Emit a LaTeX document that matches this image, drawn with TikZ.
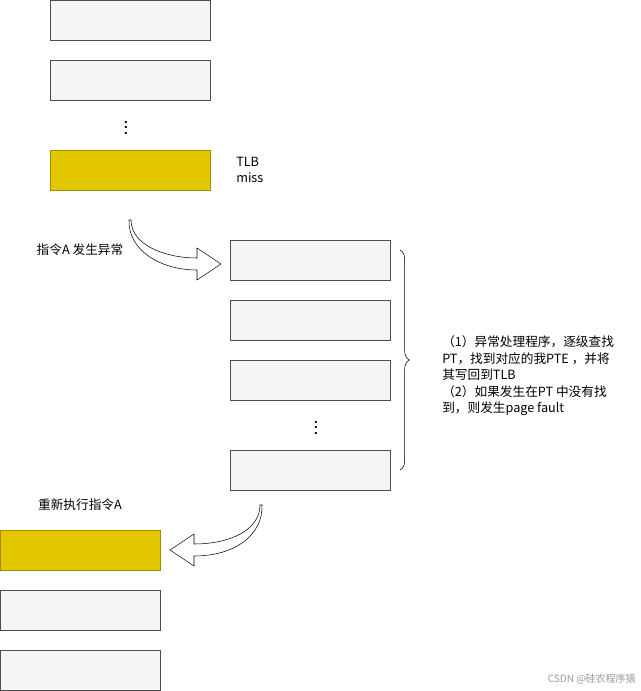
\documentclass[tikz,border=0pt]{standalone}
\usepackage{fontspec}
\setmainfont{Liberation Sans}
\newfontfamily\cjk{Noto Sans CJK SC}
\usetikzlibrary{decorations.pathreplacing}
\definecolor{ylw}{HTML}{E3C800}
\begin{document}
\begin{tikzpicture}[x=0.75pt,y=-0.75pt,
  box/.style={draw=black!70,fill=black!4,minimum width=120pt,minimum height=30pt,inner sep=0pt,anchor=north west},
  ybox/.style={box,fill=ylw,draw=ylw!70!black},
  txt/.style={font=\cjk\fontsize{9.5}{12.4}\selectfont,inner sep=0pt},
  dots/.style={inner sep=0pt,font=\bfseries}]
\useasboundingbox (0,0) rectangle (641,691);
\node[box] (a1) at (50,0) {};
\node[box] (a2) at (50,60) {};
\node[dots] (ad) at (126,124) {$\vdots$};
\node[ybox] (a3) at (50,150) {};
\node[txt,align=left,anchor=west] (tlb) at (236,170) {TLB\\miss};
\node[box] (b1) at (230,240) {};
\node[box] (b2) at (230,300) {};
\node[box] (b3) at (230,360) {};
\node[dots] (bd) at (316,424) {$\vdots$};
\node[box] (b4) at (230,450) {};
\node[ybox] (c1) at (0,530) {};
\node[box] (c2) at (0,590) {};
\node[box] (c3) at (0,650) {};
\node[txt] (l1) at (80,250) {指令A 发生异常};
\node[txt] (l2) at (80,505) {重新执行指令A};
\coordinate (bt) at (400,250); \coordinate (bb) at (400,470);
\draw[decorate,decoration={brace,amplitude=7pt}] (bt) -- (bb);
\node[txt,align=left,anchor=west] (note) at (442,376) {（1）异常处理程序，逐级查找\\PT，找到对应的我PTE ，并将\\其写回到TLB\\（2）如果发生在PT 中没有找\\到，则发生page fault};
\node[txt,text=black!40,anchor=east,font=\cjk\fontsize{7.5}{9}\selectfont] (wm) at (636,679) {CSDN @硅农程序猿};
\draw[fill=white] (131,220) .. controls (131,245) and (165,258) .. (197,258) -- (197,248) -- (221,264) -- (197,280) -- (197,270) .. controls (160,270) and (128,250) .. (129,220) -- cycle;
\draw[fill=white] (260,505) .. controls (260,530) and (230,544) .. (194,544) -- (194,534) -- (170,550) -- (194,566) -- (194,556) .. controls (235,556) and (263,535) .. (262,505) -- cycle;
\end{tikzpicture}
\end{document}
